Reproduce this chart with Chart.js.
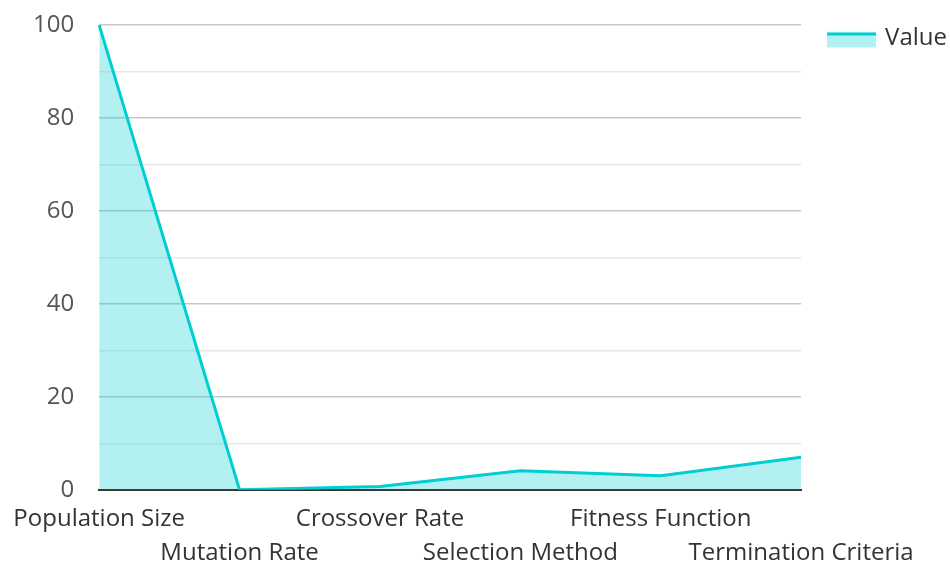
<!DOCTYPE html>
<html>
<head>
<meta charset="utf-8">
<script src="https://cdn.jsdelivr.net/npm/chart.js@4/dist/chart.umd.min.js"></script>
<style>
html,body{margin:0;padding:0;background:#fff;}
#wrap{width:950px;height:562px;position:relative;}
</style>
</head>
<body>
<div id="wrap"><canvas id="c" width="950" height="562"></canvas></div>
<script>
const categories = ["Population Size","Mutation Rate","Crossover Rate","Selection Method","Fitness Function","Termination Criteria"];
const values = [100, 0.01, 0.7, 4.1, 3.05, 7];
const yTickLabels = [0, 20, 40, 60, 80, 100];
const seriesName = "Value";
const lineColor = "#00CED1";
const fillColor = "rgba(0,206,209,0.3)";

// staggered labels
const xLabels = categories.map((c, i) => i % 2 === 1 ? ["", c] : c);

const legendLine = {
  id: 'legendLine',
  afterDraw(chart) {
    const lg = chart.legend;
    if (!lg || !lg.legendHitBoxes) return;
    const ctx = chart.ctx;
    lg.legendHitBoxes.forEach(hb => {
      const bh = lg.options.labels.boxHeight;
      const fs = lg.options.labels.font.size;
      const top = hb.top + (fs - bh) / 2 + 2;
      ctx.save();
      ctx.fillStyle = '#ffffff';
      ctx.fillRect(hb.left, top - 2, 50, bh + 4);
      ctx.fillStyle = fillColor;
      ctx.fillRect(hb.left, top, 49, bh);
      ctx.fillStyle = lineColor;
      ctx.fillRect(hb.left, top, 49, 3);
      ctx.restore();
    });
  }
};

Chart.defaults.font.family = "'Open Sans', 'Noto Sans', sans-serif";
Chart.defaults.font.size = 24;

new Chart(document.getElementById('c'), {
  type: 'line',
  data: {
    labels: xLabels,
    datasets: [{
      label: seriesName,
      data: values,
      borderColor: lineColor,
      backgroundColor: fillColor,
      borderWidth: 3,
      fill: true,
      pointRadius: 0,
      tension: 0
    }]
  },
  plugins: [legendLine],
  options: {
    responsive: false,
    animation: false,
    layout: { padding: { top: 0, right: -7, left: 8, bottom: -21 } },
    plugins: {
      legend: {
        position: 'right',
        align: 'start',
        labels: {
          color: '#333',
          font: { size: 24 },
          boxWidth: 46,
          boxHeight: 15,
          padding: 26,
          generateLabels: (chart) => [{
            text: seriesName, fillStyle: fillColor, strokeStyle: fillColor, lineWidth: 0, datasetIndex: 0, fontColor: '#333'
          }]
        }
      },
      tooltip: { enabled: false }
    },
    scales: {
      x: {
        offset: false,
        grid: { display: false, drawTicks: false },
        border: { display: true, color: '#333', width: 2 },
        ticks: { color: '#333', maxRotation: 0, autoSkip: false, padding: 13, font: { size: 24, lineHeight: 1.4 } }
      },
      y: {
        min: 0, max: 100,
        grid: {
          drawTicks: false,
          color: (ctx) => (ctx.tick && yTickLabels.includes(ctx.tick.value)) ? '#c8c8c8' : '#e8e8e8',
          lineWidth: 1.5
        },
        border: { display: false },
        ticks: {
          stepSize: 10,
          color: '#555',
          padding: 25,
          font: { size: 24, lineHeight: 0.01 },
          callback: (v) => yTickLabels.includes(v) ? String(v) : ''
        }
      }
    }
  }
});
</script>
</body>
</html>
